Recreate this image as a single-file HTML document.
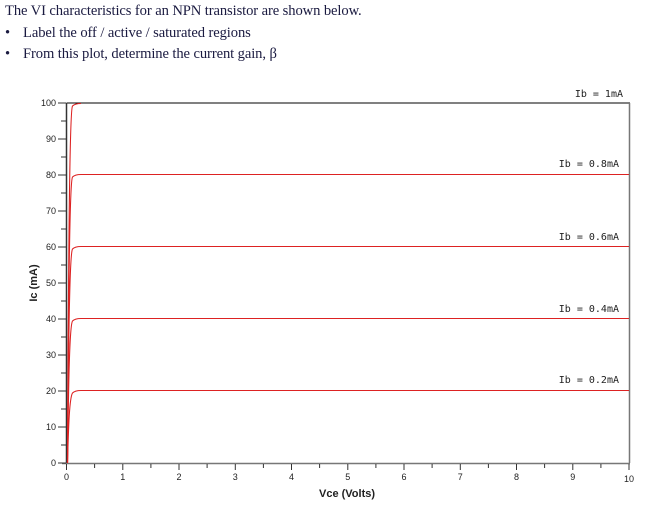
<!DOCTYPE html>
<html><head><meta charset="utf-8"><style>
html,body{margin:0;padding:0;background:#fff;}
body{width:671px;height:513px;overflow:hidden;position:relative;}
.t{position:absolute;font-family:"Liberation Serif",serif;font-size:14.6px;color:#1a1a40;white-space:nowrap;letter-spacing:-0.1px;}
</style></head><body>
<div class="t" style="left:5px;top:3px;">The VI characteristics for an NPN transistor are shown below.</div>
<div class="t" style="left:5px;top:25px;">•</div>
<div class="t" style="left:23px;top:25px;">Label the off / active / saturated regions</div>
<div class="t" style="left:5px;top:46px;">•</div>
<div class="t" style="left:23px;top:46px;">From this plot, determine the current gain, β</div>
<svg width="671" height="513" style="position:absolute;left:0;top:0" font-family="Liberation Sans, sans-serif" font-size="9">
<line x1="66.5" y1="103" x2="630" y2="103" stroke="#000" stroke-width="1"/>
<line x1="629.5" y1="103" x2="629.5" y2="463" stroke="#777" stroke-width="1.5"/>
<line x1="66.5" y1="103" x2="66.5" y2="464" stroke="#333" stroke-width="1.5"/>
<line x1="62" y1="463.5" x2="630" y2="463.5" stroke="#777" stroke-width="1.5"/>
<g stroke="#333" stroke-width="1">
<line x1="58" y1="463" x2="66" y2="463"/><line x1="61" y1="445" x2="66" y2="445"/>
<line x1="58" y1="427" x2="66" y2="427"/><line x1="61" y1="409" x2="66" y2="409"/>
<line x1="58" y1="391" x2="66" y2="391"/><line x1="61" y1="373" x2="66" y2="373"/>
<line x1="58" y1="355" x2="66" y2="355"/><line x1="61" y1="337" x2="66" y2="337"/>
<line x1="58" y1="319" x2="66" y2="319"/><line x1="61" y1="301" x2="66" y2="301"/>
<line x1="58" y1="283" x2="66" y2="283"/><line x1="61" y1="265" x2="66" y2="265"/>
<line x1="58" y1="247" x2="66" y2="247"/><line x1="61" y1="229" x2="66" y2="229"/>
<line x1="58" y1="211" x2="66" y2="211"/><line x1="61" y1="193" x2="66" y2="193"/>
<line x1="58" y1="175" x2="66" y2="175"/><line x1="61" y1="157" x2="66" y2="157"/>
<line x1="58" y1="139" x2="66" y2="139"/><line x1="61" y1="121" x2="66" y2="121"/>
<line x1="58" y1="103" x2="66" y2="103"/>
</g>
<g fill="#222" text-anchor="end">
<text x="56" y="466">0</text><text x="56" y="430">10</text><text x="56" y="394">20</text>
<text x="56" y="358">30</text><text x="56" y="322">40</text><text x="56" y="286">50</text>
<text x="56" y="250">60</text><text x="56" y="214">70</text><text x="56" y="178">80</text>
<text x="56" y="142">90</text><text x="56" y="106">100</text>
</g>
<g stroke="#333" stroke-width="1">
<line x1="66.5" y1="464" x2="66.5" y2="470"/><line x1="94.6" y1="464" x2="94.6" y2="468"/>
<line x1="122.8" y1="464" x2="122.8" y2="470"/><line x1="150.9" y1="464" x2="150.9" y2="468"/>
<line x1="179" y1="464" x2="179" y2="470"/><line x1="207.1" y1="464" x2="207.1" y2="468"/>
<line x1="235.3" y1="464" x2="235.3" y2="470"/><line x1="263.4" y1="464" x2="263.4" y2="468"/>
<line x1="291.5" y1="464" x2="291.5" y2="470"/><line x1="319.6" y1="464" x2="319.6" y2="468"/>
<line x1="347.8" y1="464" x2="347.8" y2="470"/><line x1="375.9" y1="464" x2="375.9" y2="468"/>
<line x1="404" y1="464" x2="404" y2="470"/><line x1="432.1" y1="464" x2="432.1" y2="468"/>
<line x1="460.3" y1="464" x2="460.3" y2="470"/><line x1="488.4" y1="464" x2="488.4" y2="468"/>
<line x1="516.5" y1="464" x2="516.5" y2="470"/><line x1="544.6" y1="464" x2="544.6" y2="468"/>
<line x1="572.8" y1="464" x2="572.8" y2="470"/><line x1="600.9" y1="464" x2="600.9" y2="468"/>
<line x1="629" y1="464" x2="629" y2="470"/>
</g>
<g fill="#222" text-anchor="middle">
<text x="66.5" y="480">0</text><text x="122.8" y="480">1</text><text x="179" y="480">2</text>
<text x="235.3" y="480">3</text><text x="291.5" y="480">4</text><text x="347.8" y="480">5</text>
<text x="404" y="480">6</text><text x="460.3" y="480">7</text><text x="516.5" y="480">8</text>
<text x="572.8" y="480">9</text><text x="629" y="482">10</text>
</g>
<text x="347" y="497" text-anchor="middle" font-size="11" font-weight="bold" fill="#222">Vce (Volts)</text>
<text transform="translate(37,283) rotate(-90)" text-anchor="middle" font-size="11" font-weight="bold" fill="#222">Ic (mA)</text>
<g fill="none" stroke="#d22" stroke-width="1.1">
<path d="M67.5,463 C68.5,425 69.5,398 72.5,393 Q75,390.5 81,390.5 L629,390.5"/>
<path d="M67.5,463 C68.5,385 69.5,326 72.5,321 Q75,318.5 81,318.5 L629,318.5"/>
<path d="M67.5,463 C68.5,345 69.5,254 72.5,249 Q75,246.5 81,246.5 L629,246.5"/>
<path d="M67.5,463 C68.5,305 69.5,182 72.5,177 Q75,174.5 81,174.5 L629,174.5"/>
<path d="M67.5,463 C68.5,265 69.5,110 72.5,106 Q75,103.5 81,103.5"/>
</g>
<g font-family="DejaVu Sans Mono, Liberation Mono, monospace" font-size="10" fill="#222" text-anchor="end">
<text x="623" y="97">Ib = 1mA</text>
<text x="619" y="167">Ib = 0.8mA</text>
<text x="619" y="240">Ib = 0.6mA</text>
<text x="619" y="312">Ib = 0.4mA</text>
<text x="619" y="383">Ib = 0.2mA</text>
</g>
</svg>
</body></html>
